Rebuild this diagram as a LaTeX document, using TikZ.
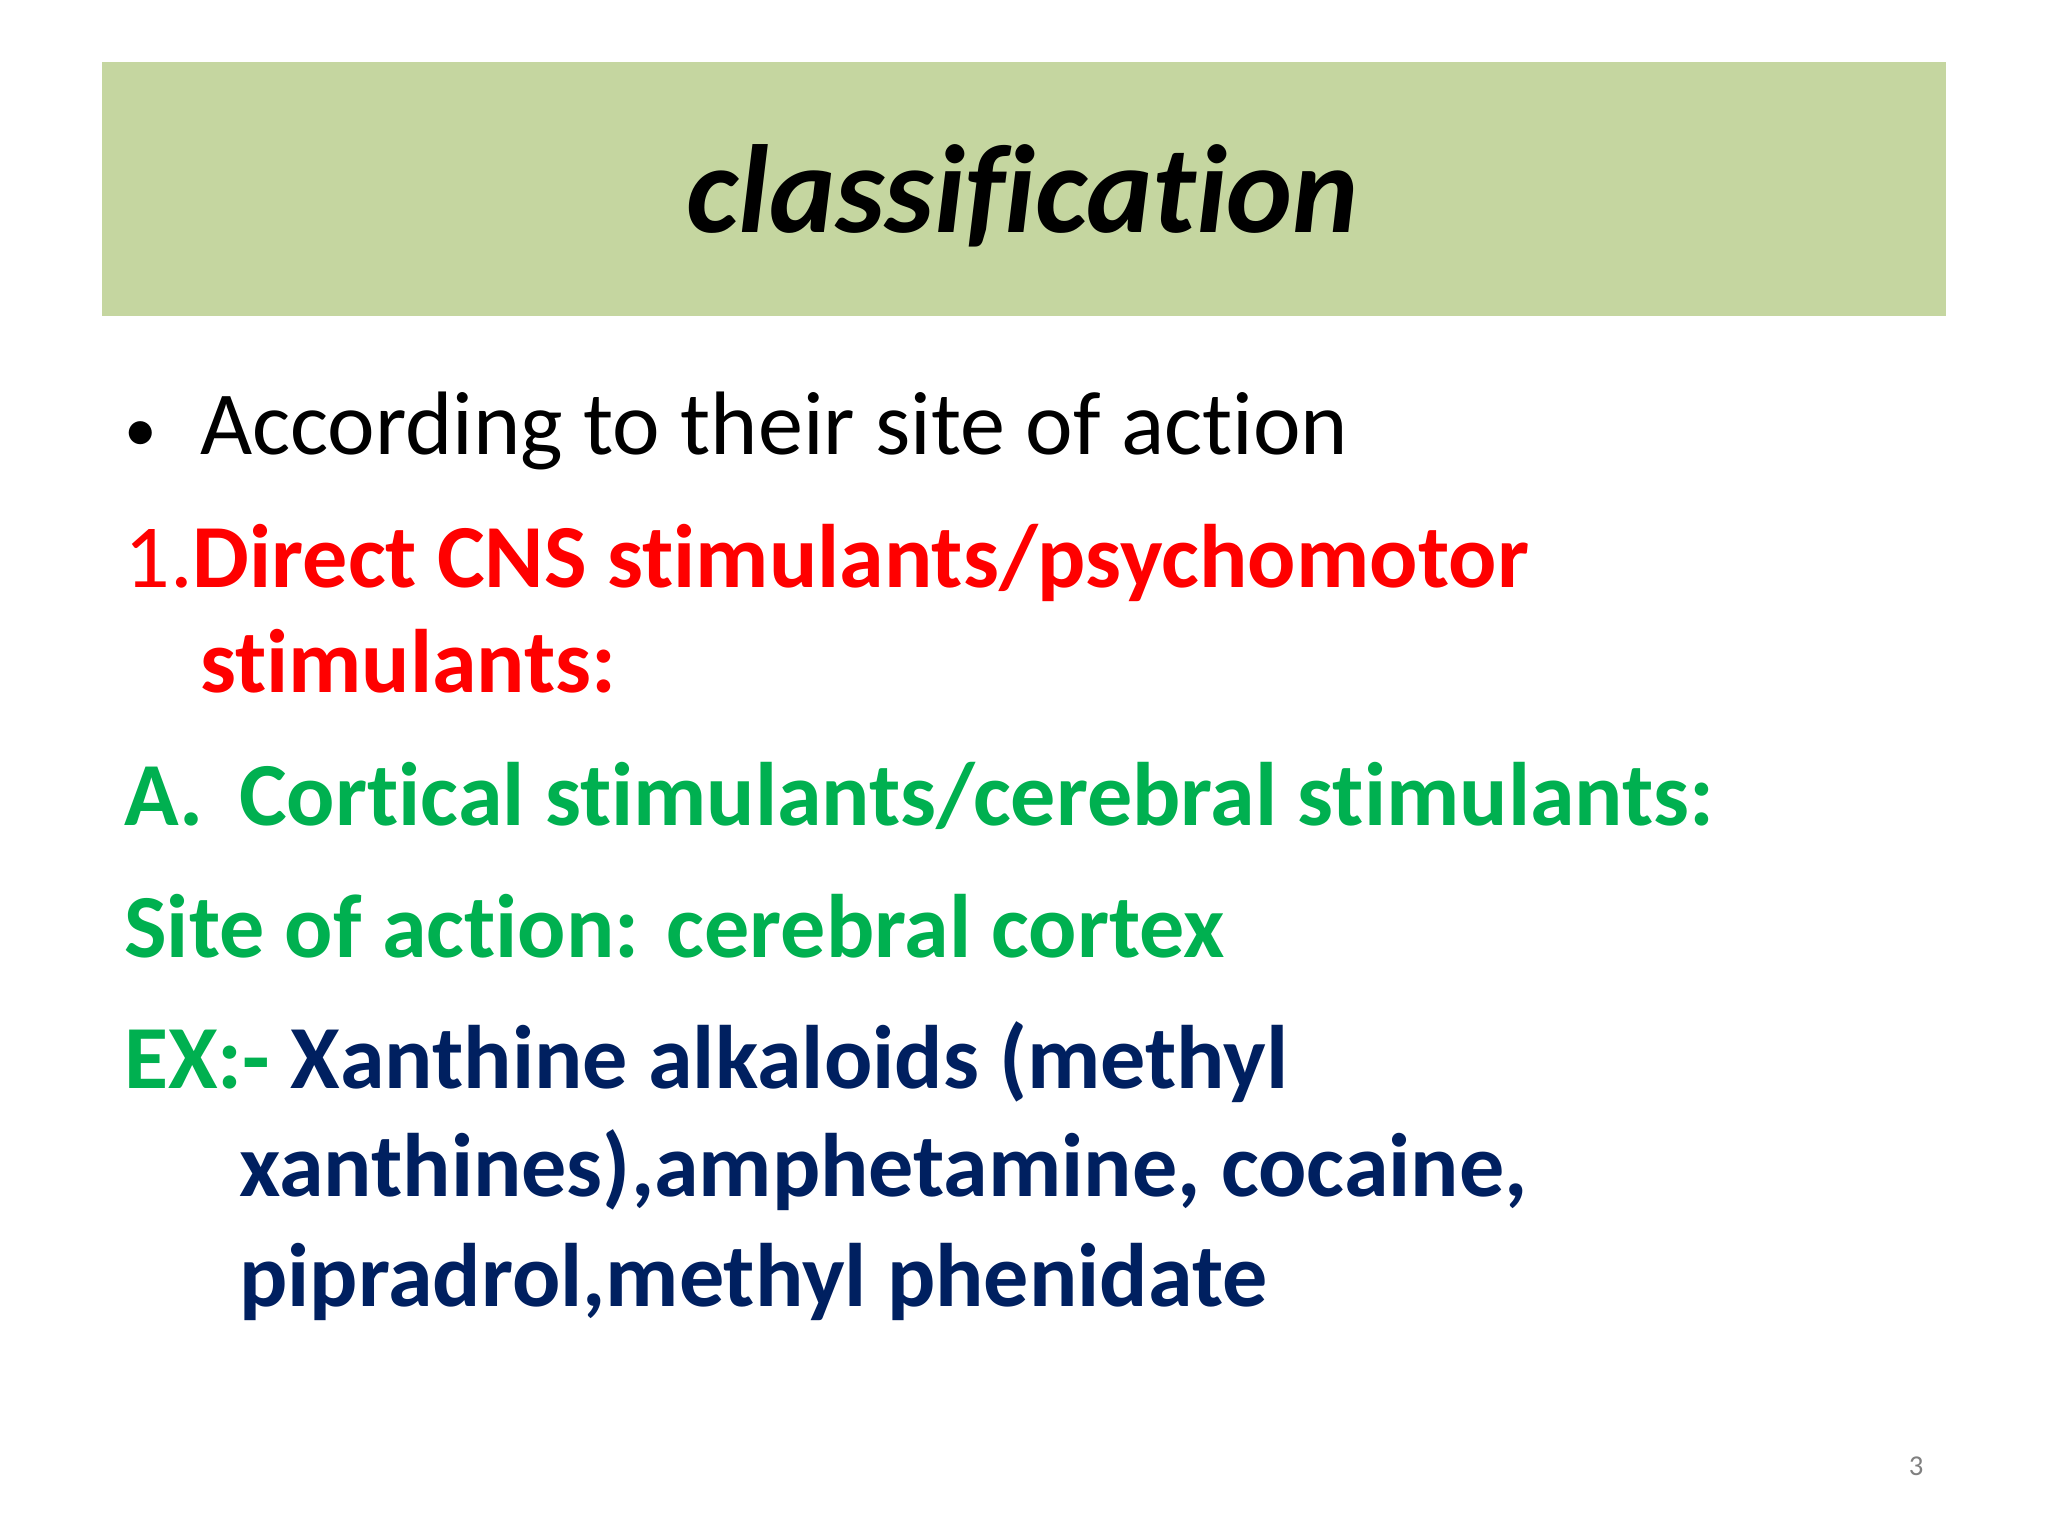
\documentclass[tikz,border=0pt]{standalone}
\usepackage{fontspec}
\setmainfont[Ligatures=NoCommon]{Carlito}
\definecolor{hdr}{RGB}{197,214,160}
\definecolor{gr}{RGB}{0,176,80}
\definecolor{nv}{RGB}{0,32,96}
\begin{document}
\begin{tikzpicture}[x=1pt,y=-1pt,
  txt/.style={anchor=base west,inner sep=0pt,font=\fontsize{69}{72}\selectfont},
  btxt/.style={txt,font=\fontsize{69}{72}\selectfont\bfseries}]
\useasboundingbox (0,0) rectangle (1568,1176);
\fill[white] (0,0) rectangle (1568,1176);
\node[fill=hdr,minimum width=1412pt,minimum height=195pt,anchor=north west,inner sep=0pt] (hd) at (78,47) {};
\node[inner sep=0pt,anchor=base,font=\fontsize{96}{100}\selectfont\bfseries\itshape] (tt) at (783,178) {classification};
\node[txt,font=\fontsize{50}{50}\selectfont] (b) at (95,346) {•};
\node[txt] (l1) at (153,348) {According to their site of action};
\node[txt,text=red] (l2) at (95,450) {1.\textbf{Direct CNS stimulants/psychomotor}};
\node[btxt,text=red] (l3) at (153,530) {stimulants:};
\node[btxt,text=gr] (l4a) at (95,632) {A.};
\node[btxt,text=gr] (l4) at (183,632) {Cortical stimulants/cerebral stimulants:};
\node[btxt,text=gr] (l5) at (95,733) {Site of action: cerebral cortex};
\node[btxt] (l6) at (95,833) {\textcolor{gr}{EX:-} \textcolor{nv}{Xanthine alkaloids (methyl}};
\node[btxt,text=nv] (l7) at (183,916) {xanthines),amphetamine, cocaine,};
\node[btxt,text=nv] (l8) at (183,1000) {pipradrol,methyl phenidate};
\node[anchor=base,inner sep=0pt,text=gray,font=\fontsize{22}{24}\selectfont] (pg) at (1467,1130) {3};
\end{tikzpicture}
\end{document}
